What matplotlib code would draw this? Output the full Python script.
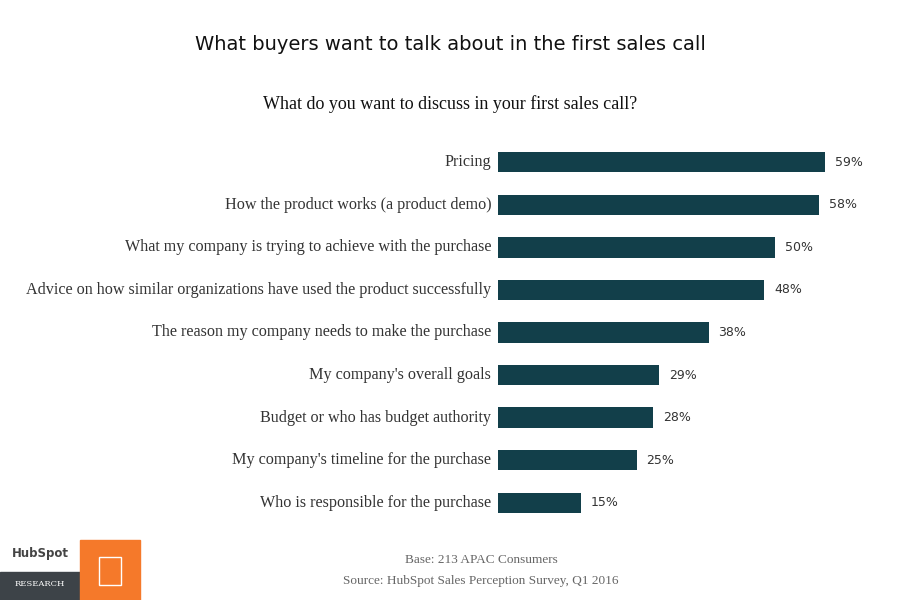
import matplotlib
matplotlib.use("Agg")
import matplotlib.pyplot as plt
from matplotlib.patches import Rectangle

categories = ["Pricing", "How the product works (a product demo)",
              "What my company is trying to achieve with the purchase",
              "Advice on how similar organizations have used the product successfully",
              "The reason my company needs to make the purchase",
              "My company's overall goals", "Budget or who has budget authority",
              "My company's timeline for the purchase", "Who is responsible for the purchase"]
values = [59, 58, 50, 48, 38, 29, 28, 25, 15]

W, H = 900, 600
fig = plt.figure(figsize=(9, 6), dpi=100)
fig.patch.set_facecolor("white")
x0 = 498 / W
ax = fig.add_axes([x0, 1 - 524 / H, 5.54 * 70 / W, (524 - 141) / H])
y = list(range(len(categories)))
ax.barh(y, values, height=0.48, color="#123f4a")
ax.set_xlim(0, 70)
ax.set_ylim(len(categories) - 0.5, -0.5)
ax.axis("off")
for i, (c, v) in enumerate(zip(categories, values)):
    ax.text(-1.2, i, c, ha="right", va="center", fontsize=11.6, family="Liberation Serif", color="#333333")
    ax.text(v + 1.8, i, f"{v}%", ha="left", va="center", fontsize=9, family="DejaVu Sans", color="#333333")

fig.text(450 / W, 1 - 45 / H, "What buyers want to talk about in the first sales call",
         ha="center", va="center", fontsize=14, family="DejaVu Sans", color="#111111")
fig.text(450 / W, 1 - 104 / H, "What do you want to discuss in your first sales call?",
         ha="center", va="center", fontsize=13, family="Liberation Serif", color="#111111")
fig.text(481 / W, 1 - 560 / H, "Base: 213 APAC Consumers", ha="center", va="center",
         fontsize=9.5, family="Liberation Serif", color="#666666")
fig.text(481 / W, 1 - 581 / H, "Source: HubSpot Sales Perception Survey, Q1 2016", ha="center",
         va="center", fontsize=9.5, family="Liberation Serif", color="#666666")

fig.add_artist(Rectangle((0, 0), 80 / W, 28 / H, transform=fig.transFigure, color="#3d4348"))
fig.add_artist(Rectangle((80 / W, 0), 60 / W, 60 / H, transform=fig.transFigure, color="#f5792a"))
fig.text(40 / W, 1 - 553 / H, "HubSpot", ha="center", va="center", fontsize=8.5,
         fontweight="bold", color="#444444")
fig.text(40 / W, 1 - 584 / H, "RESEARCH", ha="center", va="center", fontsize=6,
         family="DejaVu Serif", color="white")
fig.add_artist(Rectangle((99 / W, 1 - 585 / H), 22 / W, 28 / H, transform=fig.transFigure,
                         fill=False, ec="white", lw=1))

fig.savefig("out.png", dpi=100, facecolor="white")
